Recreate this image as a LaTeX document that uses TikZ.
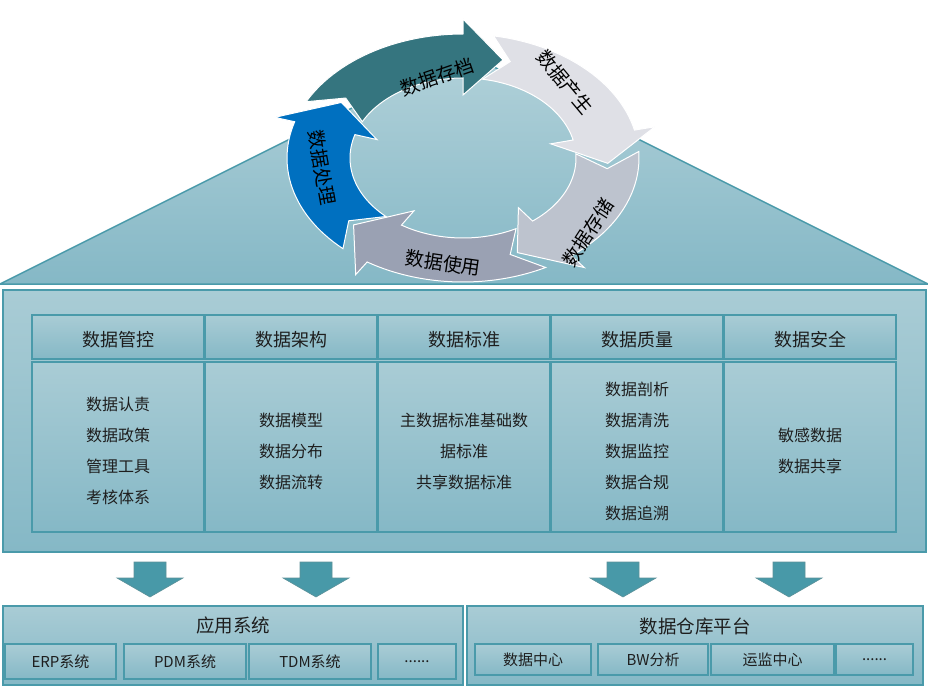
\documentclass[tikz,border=0pt]{standalone}
\usepackage{fontspec}
\setmainfont{Noto Sans CJK SC}
\usepackage{tikz}
\definecolor{tealline}{HTML}{4A9AAA}
\definecolor{paneltop}{HTML}{A9CCD5}
\definecolor{panelbot}{HTML}{85B8C6}
\definecolor{archivec}{HTML}{35757F}
\definecolor{createc}{HTML}{DFE0E6}
\definecolor{storec}{HTML}{BDC3CE}
\definecolor{usec}{HTML}{9AA1B3}
\definecolor{processc}{HTML}{0070C0}
\definecolor{downc}{HTML}{4899A8}
\definecolor{inkc}{HTML}{1E1E1E}
% one bent arrow of the ring: colour, tail angle, head base angle, tip angle
\newcommand{\ringarrow}[4]{%
  \filldraw[fill=#1,draw=white,line width=1pt]
    plot[domain=#2:#3,samples=30,variable=\t] ({463+176*cos(\t)},{158-124*sin(\t)})
    -- ({463+197*cos(#3)},{158-139*sin(#3)})
    -- ({463+145*cos(#4)},{158-102*sin(#4)})
    -- ({463+90*cos(#3)},{158-63*sin(#3)})
    -- plot[domain=#3:#2,samples=30,variable=\t] ({463+113*cos(\t)},{158-80*sin(\t)})
    -- ({463+145*cos(#2-9)},{158-102*sin(#2-9)})
    -- cycle;}

\begin{document}
\begin{tikzpicture}[x=1pt,y=-1pt,
  panel/.style={draw=tealline,line width=2pt,top color=paneltop,bottom color=panelbot},
  cell/.style={panel,line width=2.5pt,minimum width=172pt,inner sep=0pt},
  celltext/.style={text=inkc,align=center},
  smallbox/.style={panel,minimum height=35pt,inner sep=0pt,text=inkc,font=\fontsize{15}{18}\selectfont},
  ringtext/.style={font=\fontsize{19}{21}\selectfont,text=black},
  downarrow/.style={fill=downc,draw=archivec!80,line width=0.6pt}]
  \useasboundingbox (0,0) rectangle (928,687);
  % roof and ring
  \fill[top color=paneltop!90!white,bottom color=panelbot] (0,284) -- (464,52) -- (928,284) -- cycle;
  \draw[tealline,line width=1.5pt] (0,284) -- (464,52) -- (928,284) -- cycle;
  \ringarrow{storec}{3}{-52}{-68}
  \ringarrow{usec}{-62}{-123}{-139}
  \ringarrow{processc}{227}{163}{147}
  \ringarrow{archivec}{153}{90}{74}
  \ringarrow{createc}{80}{13}{-3}
  \node[ringtext,rotate=19] (archive) at (437,77) {数据存档};
  \node[ringtext,rotate=-50] (create) at (565,82) {数据产生};
  \node[ringtext,rotate=57] (store) at (588,233) {数据存储};
  \node[ringtext,rotate=-8] (use) at (443,263) {数据使用};
  \node[ringtext,rotate=-80] (process) at (322,168) {数据处理};
  % governance table
  \draw[panel] (3,290) rectangle (926,552);
  \foreach \i/\head/\body in {1/数据管控/{数据认责\\数据政策\\管理工具\\考核体系},
      2/数据架构/{数据模型\\数据分布\\数据流转},
      3/数据标准/{主数据标准基础数\\据标准\\共享数据标准},
      4/数据质量/{数据剖析\\数据清洗\\数据监控\\数据合规\\数据追溯},
      5/数据安全/{敏感数据\\数据共享}} {
    \node[cell,minimum height=44pt] (head\i) at ({118+173*(\i-1)},337) {};
    \node[celltext,font=\fontsize{18}{20}\selectfont] (headtext\i) at ({118+173*(\i-1)},340) {\head};
    \node[cell,minimum height=170pt] (body\i) at ({118+173*(\i-1)},447) {};
    \node[celltext,font=\fontsize{16}{31}\selectfont] (bodytext\i) at ({118+173*(\i-1)},451) {\body};
  }
  % arrows down
  \foreach \c in {150,316,623,789}
    \filldraw[downarrow] ({\c-16},562) -- ({\c+16},562) -- ({\c+16},578) -- ({\c+33},578)
      -- (\c,597) -- ({\c-33},578) -- ({\c-16},578) -- cycle;
  % application systems
  \node[panel,minimum width=460pt,minimum height=79pt] (apps) at (233,645.5) {};
  \node[text=inkc,font=\fontsize{18.5}{20}\selectfont] (appstitle) at (233,625) {应用系统};
  \node[smallbox,minimum width=111pt] (erp) at (60.5,661.5) {ERP系统};
  \node[smallbox,minimum width=122pt] (pdm) at (185,661.5) {PDM系统};
  \node[smallbox,minimum width=122pt] (tdm) at (310,661.5) {TDM系统};
  \node[smallbox,minimum width=78pt] (appsmore) at (417,661.5) {......};
  % data warehouse
  \node[panel,minimum width=456pt,minimum height=79pt] (dw) at (695,645.5) {};
  \node[text=inkc,font=\fontsize{18.5}{20}\selectfont] (dwtitle) at (695,626) {数据仓库平台};
  \node[smallbox,minimum width=116pt,minimum height=31pt] (center) at (533,659.5) {数据中心};
  \node[smallbox,minimum width=110pt,minimum height=31pt] (bw) at (653,659.5) {BW分析};
  \node[smallbox,minimum width=123pt,minimum height=31pt] (monitor) at (772.5,659.5) {运监中心};
  \node[smallbox,minimum width=77pt,minimum height=31pt] (dwmore) at (874.5,659.5) {......};
\end{tikzpicture}
\end{document}
